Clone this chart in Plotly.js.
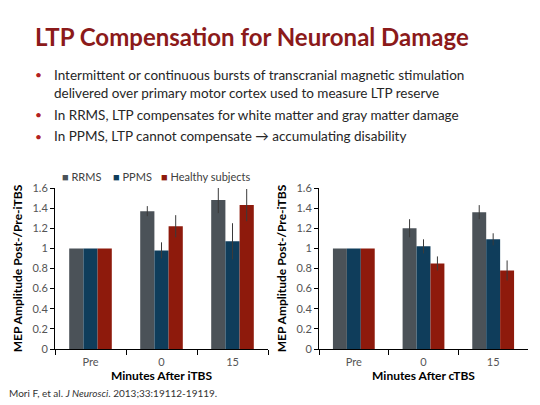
<!DOCTYPE html>
<html>
<head>
<meta charset="utf-8">
<script src="https://cdn.plot.ly/plotly-3.0.1.min.js"></script>
<style>html,body{margin:0;padding:0;background:#fff;}#chart{width:540px;height:405px;}</style>
</head>
<body>
<div id="chart"></div>
<script>
const categories = ["Pre", "0", "15"];
const seriesNames = ["RRMS", "PPMS", "Healthy subjects"];
const iTBS_RRMS = [1, 1.37, 1.48];
const iTBS_PPMS = [1, 0.98, 1.07];
const iTBS_Healthy = [1, 1.22, 1.43];
const iTBS_RRMS_err = [0, 0.05, 0.13];
const iTBS_PPMS_err = [0, 0.08, 0.18];
const iTBS_Healthy_err = [0, 0.11, 0.16];
const cTBS_RRMS = [1, 1.20, 1.36];
const cTBS_PPMS = [1, 1.02, 1.09];
const cTBS_Healthy = [1, 0.85, 0.78];
const cTBS_RRMS_err = [0, 0.09, 0.07];
const cTBS_PPMS_err = [0, 0.07, 0.06];
const cTBS_Healthy_err = [0, 0.07, 0.10];
const yTickVals = [0, 0.2, 0.4, 0.6, 0.8, 1, 1.2, 1.4, 1.6];
const yTickText = ["0", "0.2", "0.4", "0.6", "0.8", "1", "1.2", "1.4", "1.6"];
const colors = ["#4b5258", "#0f3d5b", "#8e1a0c"];
const titleText = "LTP Compensation for Neuronal Damage";
const bullets = [
  "Intermittent or continuous bursts of transcranial magnetic stimulation<br>delivered over primary motor cortex used to measure LTP reserve",
  "In RRMS, LTP compensates for white matter and gray matter damage",
  "In PPMS, LTP cannot compensate \u2192 accumulating disability"
];
const citation = "Mori F, et al. <i>J Neurosci</i>. 2013;33:19112-19119.";

const W = 540, H = 405;
const FONT = "Lato, 'Open Sans', sans-serif";

function mk(name, y, err, color, xa, ya) {
  return {
    type: "bar", name: name, x: categories, y: y,
    xaxis: xa, yaxis: ya, showlegend: false,
    marker: {color: color},
    error_y: {type: "data", array: err, visible: true, color: "#3a3a3a", thickness: 1, width: 0}
  };
}
const data = [
  mk(seriesNames[0], iTBS_RRMS, iTBS_RRMS_err, colors[0], "x", "y"),
  mk(seriesNames[1], iTBS_PPMS, iTBS_PPMS_err, colors[1], "x", "y"),
  mk(seriesNames[2], iTBS_Healthy, iTBS_Healthy_err, colors[2], "x", "y"),
  mk(seriesNames[0], cTBS_RRMS, cTBS_RRMS_err, colors[0], "x2", "y2"),
  mk(seriesNames[1], cTBS_PPMS, cTBS_PPMS_err, colors[1], "x2", "y2"),
  mk(seriesNames[2], cTBS_Healthy, cTBS_Healthy_err, colors[2], "x2", "y2")
];

const yDom = [(H - 349) / H, (H - 188) / H];
function xax(dom, title, anchor) {
  return {
    domain: dom, anchor: anchor, type: "category", showline: true, linecolor: "#000", linewidth: 1,
    ticks: "outside", tickson: "boundaries", ticklen: 5, tickcolor: "#000",
    ticklabelstandoff: 3,
    tickfont: {family: FONT, size: 11, color: "#555"},
    showgrid: false, zeroline: false, fixedrange: true,
    title: {text: title, font: {family: FONT, size: 12, color: "#000", weight: "bold"}, standoff: 0}
  };
}
function yax(dom, anchor) {
  return {
    domain: dom, anchor: anchor, range: [0, 1.6], showline: true, linecolor: "#000", linewidth: 1,
    ticks: "outside", ticklen: 4, tickcolor: "#000", tickvals: yTickVals, ticktext: yTickText,
    tickfont: {family: FONT, size: 11, color: "#555"}, showgrid: false, zeroline: false,
    title: {text: "MEP Amplitude Post-/Pre-iTBS", font: {family: FONT, size: 12, color: "#000", weight: "bold"}, standoff: 7}
  };
}

const annotations = [
  {text: titleText, xref: "paper", yref: "paper", x: 33 / W, y: 1 - 37 / H, xanchor: "left", yanchor: "middle",
   showarrow: false, font: {family: FONT, size: 24, color: "#8b1a1a", weight: "bold"}},
  {text: citation, xref: "paper", yref: "paper", x: 7 / W, y: 1 - 393 / H, xanchor: "left", yanchor: "middle",
   showarrow: false, font: {family: FONT, size: 10, color: "#333"}}
];
const bulletY = [84, 115, 136];
bullets.forEach(function (b, i) {
  annotations.push({text: b, xref: "paper", yref: "paper", x: 52 / W, y: 1 - bulletY[i] / H,
    xanchor: "left", yanchor: "middle", align: "left", showarrow: false,
    font: {family: FONT, size: 13.5, color: "#262626"}});
  const dotY = i === 0 ? 75 : bulletY[i];
  annotations.push({text: "\u2022", xref: "paper", yref: "paper", x: 38 / W, y: 1 - dotY / H,
    xanchor: "center", yanchor: "middle", showarrow: false,
    font: {family: FONT, size: 12, color: "#b22222"}});
});
const legendX = [60, 111, 159];
seriesNames.forEach(function (n, i) {
  annotations.push({text: '<span style="color:' + colors[i] + '">\u25A0</span> ' + n,
    xref: "paper", yref: "paper", x: legendX[i] / W, y: 1 - 176 / H,
    xanchor: "left", yanchor: "middle", showarrow: false,
    font: {family: FONT, size: 11, color: "#404040"}});
});

const layout = {
  width: W, height: H, margin: {l: 0, r: 0, t: 0, b: 0},
  paper_bgcolor: "#fff", plot_bgcolor: "#fff",
  barmode: "group", bargap: 0.4, bargroupgap: 0,
  font: {family: FONT},
  showlegend: false,
  xaxis: xax([55 / W, 268 / W], "Minutes After iTBS", "y"),
  yaxis: yax(yDom, "x"),
  xaxis2: xax([319 / W, 528 / W], "Minutes After cTBS", "y2"),
  yaxis2: yax(yDom, "x2"),
  annotations: annotations
};
Plotly.newPlot("chart", data, layout, {staticPlot: true, displayModeBar: false});
</script>
</body>
</html>
